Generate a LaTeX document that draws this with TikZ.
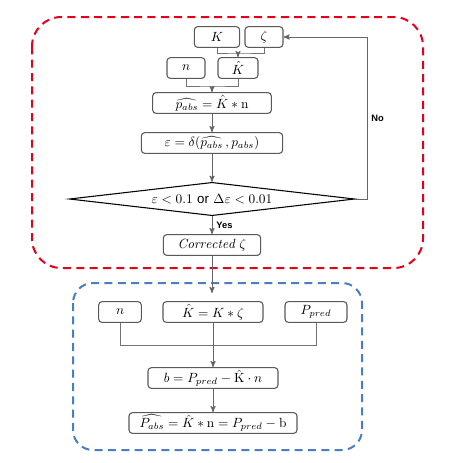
\documentclass[tikz,border=0pt]{standalone}
\usepackage{amsmath}
\usepackage{fontspec}
\usepackage{tikz}
\usetikzlibrary{arrows,shapes,positioning}
\newfontfamily\tagfont{Liberation Sans}
\definecolor{redline}{RGB}{226,0,26}
\definecolor{blueline}{RGB}{74,126,196}

\begin{document}
\begin{tikzpicture}
 [x=0.75pt,y=-0.75pt,
 term/.style={
  rectangle,
 rounded corners=2.5pt,
  draw=black!65,
  line width=0.8pt, % border
    minimum height=15.5pt,
  inner sep=1pt,
    text centered},
 test/.style={diamond, draw=black, line width=0.8pt, aspect=8.5,
  minimum width=214pt, minimum height=25pt, inner sep=0pt},
 wire/.style={draw=black!55, line width=0.7pt},
 tip/.style={->,>=stealth',draw=black!60,line width=0.7pt},
 answer/.style={font=\tagfont\bfseries\scriptsize, inner sep=3pt},
 stage/.style={dash pattern=on 6pt off 4pt, line width=1.5pt}]
\useasboundingbox (0,0) rectangle (474,462);
% groups
\draw[stage, draw=redline, rounded corners=22pt] (32,17) rectangle (423,268);
\draw[stage, draw=blueline, rounded corners=15pt] (73,283) rectangle (362,450);
% correction loop
\node (K) [term, minimum width=34pt] at (217,37) {$K$};
\node (zeta) [term, minimum width=28.5pt] at (264,37) {$\zeta$};
\node (n) [term, minimum width=28.5pt] at (186,68) {$n$};
\node (Khat) [term, minimum width=30pt] at (238,68) {$\hat{K}$};
\node (pabs) [term, minimum width=89pt] at (212,103) {$\widehat{p_{abs}} = \hat{K} * \mathrm{n}$};
\node (err) [term, minimum width=106pt] at (212,143) {$\varepsilon = \delta(\widehat{p_{abs}}\,, p_{abs})$};
\node (stop) [test] at (212,199) {$\varepsilon < 0.1$ {\tagfont or} $\Delta\varepsilon < 0.01$};
\node (corr) [term, minimum width=73pt] at (212,245) {$\mathit{Corrected}\ \zeta$};
\coordinate (entry) at (212,293);
% prediction
\node (n2) [term, minimum width=32pt] at (120,312) {$n$};
\node (Kz) [term, minimum width=75pt] at (213,312) {$\hat{K} = K * \zeta$};
\node (ppred) [term, minimum width=46.5pt] at (316,312) {$P_{pred}$};
\node (b) [term, minimum width=97.5pt] at (213,378) {$b = P_{pred} - \hat{\mathrm{K}} \cdot n$};
\node (pfinal) [term, minimum width=126pt] at (213,423) {$\widehat{P_{abs}} = \hat{K} * \mathrm{n} = P_{pred} - \mathrm{b}$};
% connectors
\coordinate (j1) at (238,53);
\coordinate (j2) at (212,86);
\coordinate (j3) at (213,345);
\coordinate (back) at (367,199);
\draw[wire] (K.south) |- (j1) -| (zeta.south);
\draw[tip] (j1) -- (Khat);
\draw[wire] (n.south) |- (j2) -| (Khat.south);
\draw[tip] (j2) -- (pabs);
\path (pabs)  edge[tip] (err) ;
\path (err)  edge[tip] (stop) ;
\path (stop)  edge[tip] node[answer, right] {Yes} (corr) ;
\draw[tip] (stop.east) -- (back) |- node[answer, pos=0.25, right] {No} (zeta.east);
\draw[tip] (corr) -- (entry);
\draw[wire] (n2.south) |- (j3) -| (ppred.south);
\draw[tip] (Kz) -- (b);
\path (b)  edge[tip] (pfinal) ;
\end{tikzpicture}
\end{document}
